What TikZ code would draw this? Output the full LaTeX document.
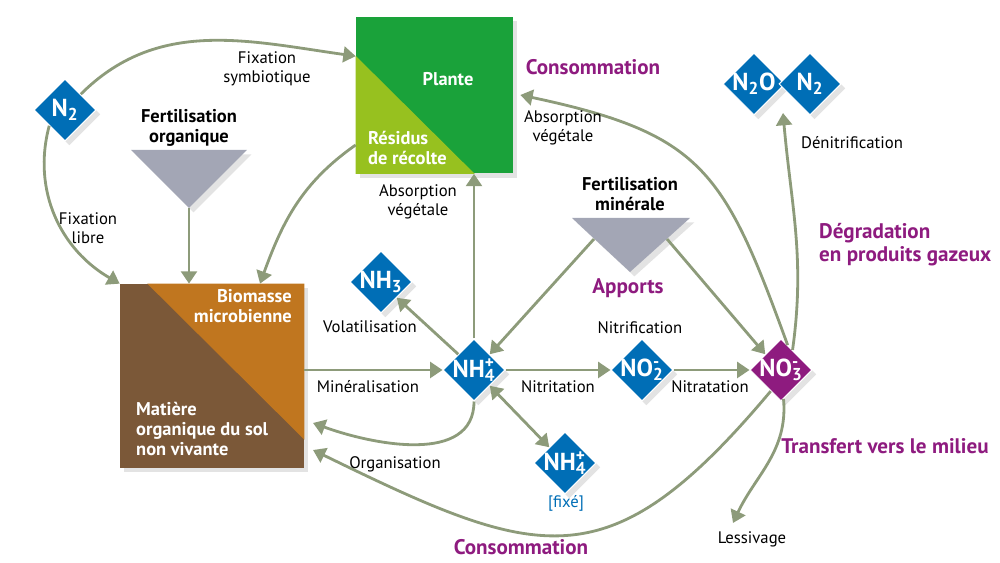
\documentclass[tikz,border=0pt]{standalone}
\usepackage{fontspec}
\setmainfont{PT Sans}
\usepackage{xcolor}
\usepackage{tikz}
\usetikzlibrary{shapes.geometric}
\usetikzlibrary{arrows.meta}
\usetikzlibrary{shadows}

\definecolor{fleche}{RGB}{141,155,122}
\definecolor{bleuN}{RGB}{0,110,182}
\definecolor{mauve}{RGB}{142,27,127}
\definecolor{vertfonce}{RGB}{26,162,58}
\definecolor{vertclair}{RGB}{151,193,31}
\definecolor{brun}{RGB}{123,88,56}
\definecolor{ocre}{RGB}{192,118,31}
\definecolor{entonnoir}{RGB}{163,166,181}

\tikzset{
    ombre/.style = {drop shadow={opacity=0.22, shadow xshift=2.5pt, shadow yshift=-2.5pt}},
    ion/.style = {diamond, aspect=1, minimum size=1.24cm, inner sep=-2pt, fill=bleuN,
        draw=white, line width=0.6pt, text=white, font=\fontsize{14}{15}\selectfont\bfseries, ombre},
    boite/.style = {rectangle, inner sep=0pt, ombre},
    flux/.style = {draw=fleche, line width=1.6pt, -{Triangle[length=7pt, width=9pt]}},
    legende/.style = {font=\fontsize{9.5}{10.5}\selectfont, align=center},
    gras/.style = {font=\fontsize{10.5}{11.5}\selectfont\bfseries, align=center},
    processus/.style = {font=\fontsize{12}{13}\selectfont\bfseries, text=mauve, align=center},
    blanc/.style = {font=\fontsize{10.5}{11.5}\selectfont\bfseries, text=white},
}

\begin{document}
\begin{tikzpicture}[x=0.02cm, y=0.02cm]
        \useasboundingbox (0,0) rectangle (1000,563);

        \node[boite, fill=vertfonce, minimum size=3.14cm] (plante) at (434.5,468) {};
        \fill[vertclair] (plante.south west) -- ++(0,118) -- ++(119,-118) -- cycle;
        \node[blanc] (plantetxt) at (448,484) {Plante};
        \node[blanc, align=left, anchor=west] (residus) at (362,415) {Résidus\\de récolte};

        \node[boite, fill=brun, minimum size=3.68cm] (sol) at (212,187) {};
        \fill[ocre] (sol.north east) -- ++(0,-156) -- ++(-157,156) -- cycle;
        \node[blanc, align=right, anchor=east] (biomasse) at (298,257) {Biomasse\\microbienne};
        \node[blanc, align=left, anchor=west] (matiere) at (130,134) {Matière\\organique du sol\\non vivante};

        \coordinate (forg) at (189,355);
        \fill[entonnoir, ombre] (131,413) -- (247,413) -- (forg) -- cycle;
        \node[gras] (forgtxt) at (189,435) {Fertilisation\\organique};

        \coordinate (fmin) at (630,291);
        \fill[entonnoir, ombre] (572,345) -- (690,345) -- (fmin) -- cycle;
        \node[gras] (fmintxt) at (630,369) {Fertilisation\\minérale};
        \coordinate (fming) at (594,324);
        \coordinate (fmind) at (667,324);

        \node[ion] (n2g) at (65,453) {N\textsubscript{2}};
        \node[ion] (nh4) at (474,193) {NH\rlap{\textsuperscript{+}}\textsubscript{4}};
        \node[ion] (nh3) at (381,281) {NH\textsubscript{3}};
        \node[ion] (no2) at (642,193) {NO\rlap{\textsuperscript{-}}\textsubscript{2}};
        \node[ion, fill=mauve] (no3) at (781,193) {NO\rlap{\textsuperscript{-}}\textsubscript{3}};
        \node[ion] (nh4f) at (565,100) {NH\rlap{\textsuperscript{+}}\textsubscript{4}};
        \node[ion] (n2o) at (754,479) {N\textsubscript{2}O};
        \node[ion] (n2d) at (810,479) {N\textsubscript{2}};

        \coordinate (gaz) at (783,450);
        \coordinate (orgfin) at (313,140);
        \coordinate (consfin) at (313,113);
        \coordinate (lessiv) at (733,40);

        \draw[flux] (forg) -- (sol.north -| forg);
        \draw[flux] (n2g.225) to[out=-105, in=150] (sol.north west);
        \draw[flux] (n2g.45) to[out=45, in=172] ([yshift=-0.8cm]plante.north west);
        \draw[flux] ([yshift=-1cm]plante.west) to[out=215, in=70] ([xshift=0.96cm]sol.north);
        \draw[flux] (sol.east |- nh4.west) -- (nh4.west);
        \draw[flux] (nh4.north) -- (plante.south -| nh4.north);
        \draw[flux] (nh4.north west) -- (nh3.south east);
        \draw[flux, {Triangle[length=7pt, width=9pt]}-{Triangle[length=7pt, width=9pt]}] (nh4.south east) -- (nh4f.north west);
        \draw[flux] (nh4.east) -- (no2.west);
        \draw[flux] (no2.east) -- (no3.west);
        \draw[flux] (fming) -- (nh4.north east);
        \draw[flux] (fmind) -- (no3.north west);
        \draw[flux] (nh4.south) to[out=-90, in=-20] (orgfin);
        \draw[flux] (no3.75) to[out=110, in=-12, looseness=1.3] ([xshift=0.14cm]plante.east);
        \draw[flux] (no3.60) to[out=82, in=-85] (gaz);
        \draw[flux] (no3.244) to[out=230, in=-26, looseness=1.4] (consfin);
        \draw[flux] (no3.275) to[out=-85, in=65] (lessiv);

        \node[legende] (lsymb) at (267,494) {Fixation\\symbiotique};
        \node[legende] (llibre) at (88,335) {Fixation\\libre};
        \node[legende] (labsg) at (418,361) {Absorption\\végétale};
        \node[legende] (labsd) at (563,435) {Absorption\\végétale};
        \node[legende] (lvol) at (370,236) {Volatilisation};
        \node[legende] (lmin) at (368,176) {Minéralisation};
        \node[legende] (lorg) at (395,99) {Organisation};
        \node[legende] (lnitri) at (558,176) {Nitritation};
        \node[legende] (lnitra) at (710,176) {Nitratation};
        \node[legende] (lnitrif) at (640,235) {Nitrification};
        \node[legende] (ldenit) at (852,420) {Dénitrification};
        \node[legende] (lless) at (752,24) {Lessivage};
        \node[legende, text=bleuN] (lfixe) at (566,60) {[fixé]};

        \node[processus] (pconsh) at (593,496) {Consommation};
        \node[processus] (pconsb) at (521,16) {Consommation};
        \node[processus] (papports) at (628,275) {Apports};
        \node[processus, align=left, anchor=west] (pdegr) at (813,318) {Dégradation\\en produits gazeux};
        \node[processus] (ptransf) at (885,117) {Transfert vers le milieu};
\end{tikzpicture}
\end{document}
